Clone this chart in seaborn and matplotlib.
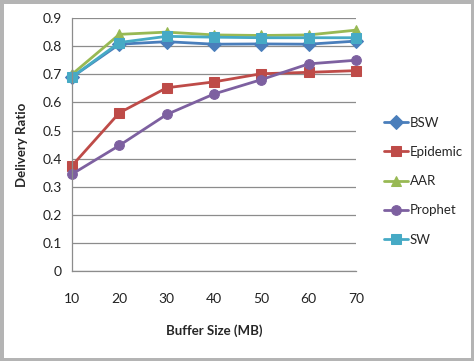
import pandas as pd
import numpy as np
import matplotlib.pyplot as plt
import seaborn as sns
from matplotlib.ticker import FuncFormatter

buffer_size = [10, 20, 30, 40, 50, 60, 70]
bsw = [0.69, 0.807, 0.816, 0.807, 0.808, 0.807, 0.818]
epidemic = [0.375, 0.563, 0.652, 0.673, 0.702, 0.707, 0.713]
aar = [0.70, 0.842, 0.850, 0.840, 0.838, 0.840, 0.857]
prophet = [0.345, 0.447, 0.557, 0.630, 0.681, 0.737, 0.750]
sw = [0.69, 0.813, 0.835, 0.832, 0.830, 0.830, 0.830]

protocols = ['BSW', 'Epidemic', 'AAR', 'Prophet', 'SW']
colours = ['#4A7EBB', '#BE4B48', '#98B954', '#7D60A0', '#46AAC5']
markers = ['D', 's', '^', 'o', 's']

df = pd.DataFrame({
    'buffer': buffer_size * 5,
    'ratio': bsw + epidemic + aar + prophet + sw,
    'protocol': np.repeat(protocols, len(buffer_size)),
})

sns.set_style('white')
plt.rcParams['font.family'] = ['Lato', 'DejaVu Sans']

fig = plt.figure(figsize=(4.74, 3.61), dpi=100)
ax = fig.add_axes([0.152, 0.249, 0.599, 0.701])

sns.lineplot(data=df, x='buffer', y='ratio', hue='protocol', style='protocol',
             hue_order=protocols, style_order=protocols,
             palette=dict(zip(protocols, colours)),
             markers=dict(zip(protocols, markers)), dashes=False,
             markersize=7, linewidth=2, ax=ax, clip_on=False)

# excel style markers: edge in the line colour
for line in ax.lines:
    line.set_markeredgecolor(line.get_color())

ax.set_xlim(10, 70)
ax.set_ylim(0, 0.9)
ax.set_xticks(buffer_size)
ax.set_yticks(np.arange(0, 0.91, 0.1))
ax.yaxis.set_major_formatter(FuncFormatter(lambda v, p: f"{v:g}" if v else "0"))
ax.grid(True, axis='y', color='#8C8C8C', linewidth=0.9)
ax.grid(False, axis='x')
ax.spines[['right', 'top']].set_visible(False)
for s in ['left', 'bottom']:
    ax.spines[s].set_color('#8C8C8C')
    ax.spines[s].set_linewidth(0.9)
ax.tick_params(axis='both', direction='out', length=4, width=0.9, color='#8C8C8C',
               labelsize=10, labelcolor='#222222')
ax.tick_params(axis='x', pad=12)
ax.set_xlabel('Buffer Size (MB)', fontsize=9.5, fontweight='bold', labelpad=14)
ax.set_ylabel('Delivery Ratio', fontsize=9.5, fontweight='bold', labelpad=10)

handles, labels = ax.get_legend_handles_labels()
for h in handles:
    h.set_markeredgecolor(h.get_color())
ax.legend(handles, labels, loc='upper left', bbox_to_anchor=(1.08, 0.63),
          frameon=False, fontsize=9.5, labelspacing=1.3, handlelength=1.8,
          handletextpad=0.15, borderaxespad=0)

fig.patch.set_edgecolor('#B4B4B4')
fig.patch.set_linewidth(5)
fig.savefig('out.png', dpi=100, edgecolor=fig.get_edgecolor())
